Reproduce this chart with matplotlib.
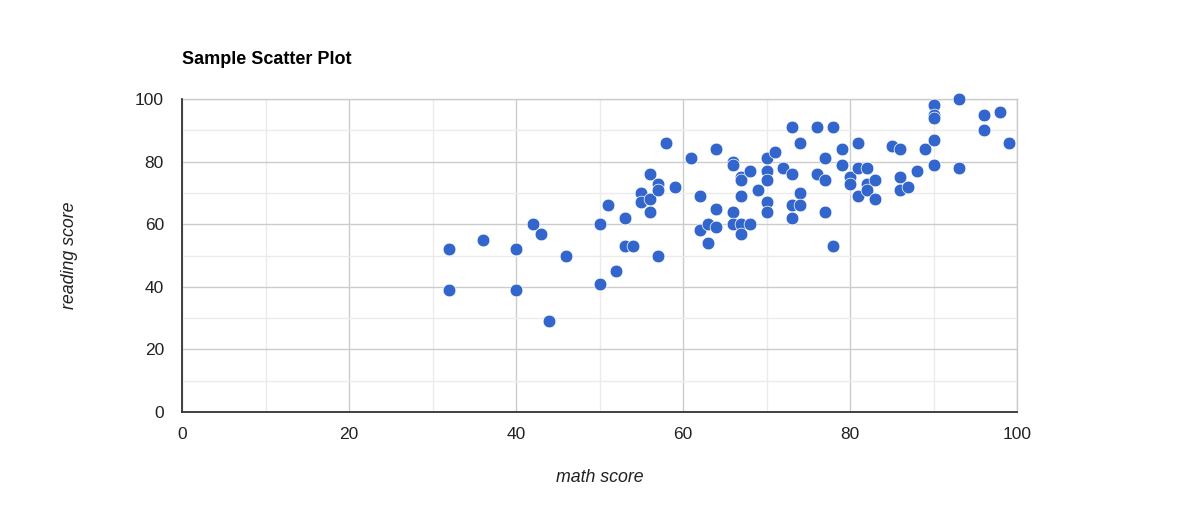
import matplotlib
matplotlib.use("Agg")
import matplotlib.pyplot as plt
from matplotlib.ticker import MultipleLocator

# ───────── Data ──────────────────────────────────────────────────────
math_score = [
    32, 32, 36, 40, 40, 42, 43, 44, 46, 50,
    50, 51, 52, 53, 53, 54, 55, 55, 56, 56,
    56, 57, 57, 57, 58, 59, 61, 62, 62, 63,
    63, 64, 64, 64, 66, 66, 66, 66, 67, 67,
    67, 67, 67, 68, 68, 69, 70, 70, 70, 70,
    70, 71, 72, 73, 73, 73, 73, 74, 74, 74,
    76, 76, 77, 77, 77, 78, 78, 79, 79, 80,
    80, 81, 81, 81, 82, 82, 82, 83, 83, 85,
    86, 86, 86, 87, 88, 89, 90, 90, 90, 90,
    90, 93, 93, 96, 96, 98, 99,
]
reading_score = [
    52, 39, 55, 52, 39, 60, 57, 29, 50, 60,
    41, 66, 45, 62, 53, 53, 70, 67, 76, 68,
    64, 73, 71, 50, 86, 72, 81, 69, 58, 60,
    54, 84, 65, 59, 80, 79, 64, 60, 75, 74,
    69, 60, 57, 77, 60, 71, 81, 77, 74, 67,
    64, 83, 78, 91, 76, 66, 62, 86, 70, 66,
    91, 76, 81, 74, 64, 91, 53, 84, 79, 75,
    73, 86, 78, 69, 78, 73, 71, 74, 68, 85,
    84, 75, 71, 72, 77, 84, 98, 95, 94, 87,
    79, 100, 78, 95, 90, 96, 86,
]

# ───────── Style ─────────────────────────────────────────────────────
plt.rcParams['font.family'] = ['Liberation Sans', 'DejaVu Sans']
POINT_COLOR = '#3366cc'
TEXT_COLOR = '#222222'

fig = plt.figure(figsize=(12, 5.11), dpi=100)
ax = fig.add_axes([182 / 1200, 99 / 511, (1017 - 182) / 1200, (412 - 99) / 511])

ax.scatter(math_score, reading_score, s=84, color=POINT_COLOR,
           edgecolor='white', linewidth=0.5, zorder=3, clip_on=False)

ax.set_xlim(0, 100)
ax.set_ylim(0, 100)
ax.xaxis.set_major_locator(MultipleLocator(20))
ax.yaxis.set_major_locator(MultipleLocator(20))
ax.xaxis.set_minor_locator(MultipleLocator(10))
ax.yaxis.set_minor_locator(MultipleLocator(10))

ax.grid(True, which='major', color='#cccccc', linewidth=1.0, zorder=0)
ax.grid(True, which='minor', color='#ebebeb', linewidth=1.0, zorder=0)
ax.set_axisbelow(True)

for side in ('top', 'right'):
    ax.spines[side].set_color('#cccccc')
    ax.spines[side].set_linewidth(1.0)
for side in ('left', 'bottom'):
    ax.spines[side].set_color('#333333')
    ax.spines[side].set_linewidth(1.3)
    ax.spines[side].set_zorder(4)

ax.tick_params(which='both', length=0)
ax.tick_params(axis='y', pad=13, labelsize=12.5, labelcolor=TEXT_COLOR)
ax.tick_params(axis='x', pad=11, labelsize=12.5, labelcolor=TEXT_COLOR)

fig.text(182 / 1200, 1 - 60 / 511, 'Sample Scatter Plot', fontsize=13,
         fontweight='bold', color='black', ha='left', va='center')
fig.text(600 / 1200, 1 - 477 / 511, 'math score', fontsize=12.8,
         style='italic', color=TEXT_COLOR, ha='center', va='center')
fig.text(70 / 1200, 1 - 255 / 511, 'reading score', fontsize=12.8,
         style='italic', color=TEXT_COLOR, ha='center', va='center',
         rotation=90)

fig.savefig('out.png', dpi=100)
